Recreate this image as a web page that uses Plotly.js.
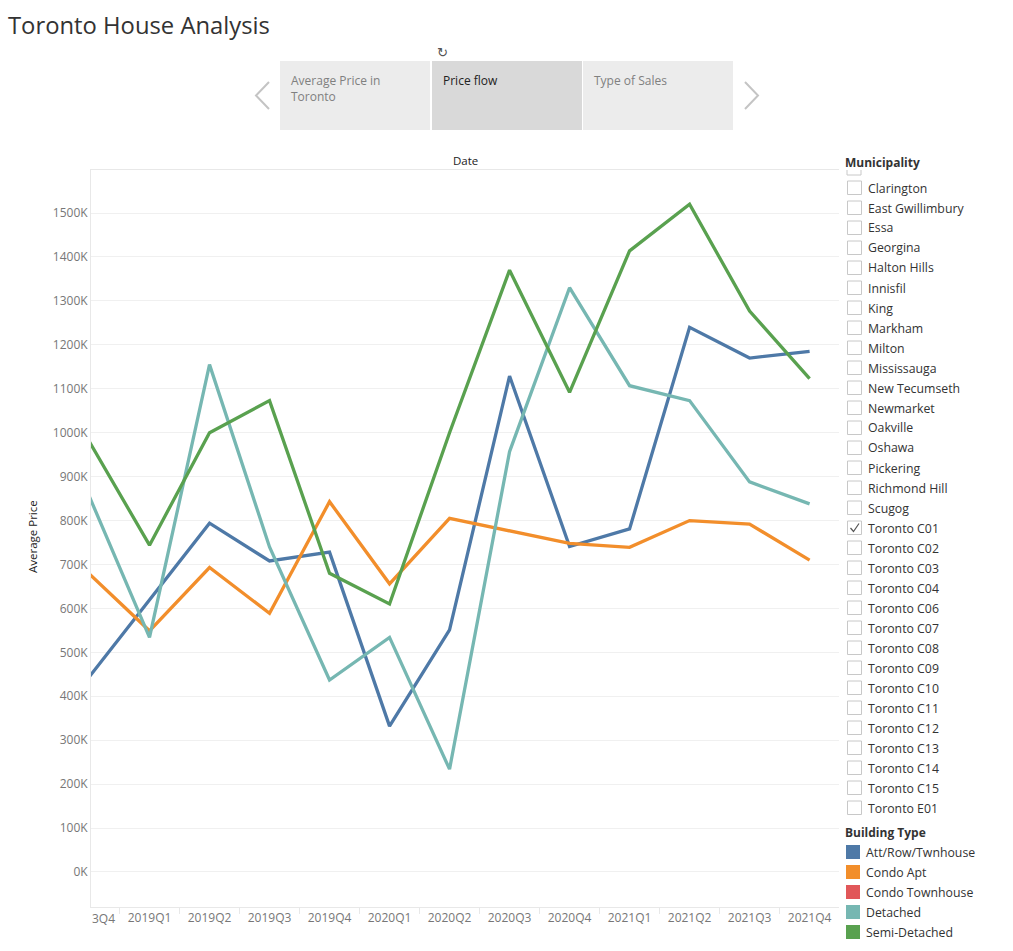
<!DOCTYPE html>
<html>
<head>
<meta charset="utf-8">
<script src="https://cdn.plot.ly/plotly-3.0.1.min.js"></script>
<style>
  html, body { margin: 0; padding: 0; background: #ffffff; }
  #chart { width: 1013px; height: 951px; }
</style>
</head>
<body>
<div id="chart"></div>
<script>
// ---------------- DATA ----------------
const quarters = ["2018Q4","2019Q1","2019Q2","2019Q3","2019Q4","2020Q1","2020Q2","2020Q3","2020Q4","2021Q1","2021Q2","2021Q3","2021Q4"];

const attRowTwnhouse = [445000, 618000, 794000, 708000, 728000, 332000, 551000, 1129000, 741000, 781000, 1240000, 1170000, 1185000];
const condoApt       = [678000, 549000, 693000, 589000, 843000, 656000, 805000, 777000, 748000, 739000, 800000, 792000, 710000];
const condoTownhouse = [];
const detached       = [854000, 534000, 1155000, 740000, 437000, 534000, 234000, 957000, 1330000, 1107000, 1073000, 888000, 838000];
const semiDetached   = [979000, 744000, 1000000, 1073000, 680000, 610000, 1000000, 1370000, 1092000, 1414000, 1520000, 1277000, 1123000];

const buildingTypes = ["Att/Row/Twnhouse", "Condo Apt", "Condo Townhouse", "Detached", "Semi-Detached"];
const typeColors    = ["#4e79a7", "#f28e2b", "#e15759", "#76b7b2", "#59a14f"];
const seriesValues  = [attRowTwnhouse, condoApt, condoTownhouse, detached, semiDetached];

const yTickVals  = [0,100000,200000,300000,400000,500000,600000,700000,800000,900000,1000000,1100000,1200000,1300000,1400000,1500000];
const yTickText  = ["0K","100K","200K","300K","400K","500K","600K","700K","800K","900K","1000K","1100K","1200K","1300K","1400K","1500K"];

const municipalities = ["Clarington","East Gwillimbury","Essa","Georgina","Halton Hills","Innisfil","King","Markham","Milton","Mississauga","New Tecumseth","Newmarket","Oakville","Oshawa","Pickering","Richmond Hill","Scugog","Toronto C01","Toronto C02","Toronto C03","Toronto C04","Toronto C06","Toronto C07","Toronto C08","Toronto C09","Toronto C10","Toronto C11","Toronto C12","Toronto C13","Toronto C14","Toronto C15","Toronto E01"];
const selectedMunicipality = "Toronto C01";

const storyTabs = ["Average Price in<br>Toronto", "Price flow", "Type of Sales"];
const activeTab = 1;

// ---------------- LAYOUT HELPERS (pixel -> paper) ----------------
const W = 1013, H = 951;
const M = {l: 91, r: 174, t: 170, b: 44};
const PW = W - M.l - M.r, PH = H - M.t - M.b;
const px = x => (x - M.l) / PW;
const py = y => (H - M.b - y) / PH;
const FONT = "Open Sans, Liberation Sans, Arial, sans-serif";

// ---------------- TRACES ----------------
const traces = buildingTypes.map((name, i) => ({
  type: "scatter",
  mode: "lines",
  name: name,
  x: quarters.slice(0, seriesValues[i].length),
  y: seriesValues[i],
  line: {color: typeColors[i], width: 3.3},
  showlegend: false,
  hoverinfo: "x+y+name"
}));

// ---------------- SHAPES & ANNOTATIONS ----------------
const shapes = [];
const annotations = [];

// Title
annotations.push({xref:"paper", yref:"paper", x: px(6), y: py(25), xanchor:"left", yanchor:"middle",
  text:"Toronto House Analysis", showarrow:false, font:{family:FONT, size:23.8, color:"#333333"}});

// Refresh icon
annotations.push({xref:"paper", yref:"paper", x: px(442), y: py(52), xanchor:"center", yanchor:"middle",
  text:"↻", showarrow:false, font:{family:"DejaVu Sans", size:13, color:"#555555"}});

// Story tabs
const tabX = [280, 432, 583];
const tabW = 150;
storyTabs.forEach((t, i) => {
  shapes.push({type:"rect", xref:"paper", yref:"paper", x0:px(tabX[i]), x1:px(tabX[i]+tabW), y0:py(130), y1:py(61),
    fillcolor: i === activeTab ? "#d9d9d9" : "#ececec", line:{width:0}, layer:"below"});
  annotations.push({xref:"paper", yref:"paper", x:px(tabX[i]+9), y:py(70), xanchor:"left", yanchor:"top",
    text:t, align:"left", showarrow:false,
    font:{family:FONT, size:12, color: i === activeTab ? "#222222" : "#808080"}});
});
// Arrows
shapes.push({type:"path", xref:"paper", yref:"paper",
  path:`M ${px(269)} ${py(82)} L ${px(256)} ${py(95.5)} L ${px(269)} ${py(109)}`, line:{color:"#c4c4c4", width:2}});
shapes.push({type:"path", xref:"paper", yref:"paper",
  path:`M ${px(745)} ${py(82)} L ${px(758)} ${py(95.5)} L ${px(745)} ${py(109)}`, line:{color:"#c4c4c4", width:2}});

// Header "Date"
annotations.push({xref:"paper", yref:"paper", x:px(465), y:py(160), xanchor:"center", yanchor:"middle",
  text:"Date", showarrow:false, font:{family:FONT, size:11.5, color:"#222222"}});
// Y axis title
annotations.push({xref:"paper", yref:"paper", x:px(32), y:py(537), xanchor:"center", yanchor:"middle",
  text:"Average Price", textangle:-90, showarrow:false, font:{family:FONT, size:11.5, color:"#222222"}});
// clipped first category label
annotations.push({xref:"paper", yref:"paper", x:px(90), y:py(918), xanchor:"left", yanchor:"middle",
  text:"3Q4", showarrow:false, font:{family:FONT, size:12, color:"#777777"}});

// Municipality filter
annotations.push({xref:"paper", yref:"paper", x:px(843), y:py(163), xanchor:"left", yanchor:"middle",
  text:"<b>Municipality</b>", showarrow:false, font:{family:FONT, size:12, color:"#333333"}});
// partially hidden checkbox above the list
shapes.push({type:"path", xref:"paper", yref:"paper",
  path:`M ${px(847)} ${py(170)} L ${px(847)} ${py(175)} L ${px(861)} ${py(175)} L ${px(861)} ${py(170)}`,
  line:{color:"#c8c8c8", width:1}});
municipalities.forEach((m, i) => {
  const cy = 188 + 20 * i;
  shapes.push({type:"rect", xref:"paper", yref:"paper", x0:px(847.5), x1:px(861.5), y0:py(cy+6.5), y1:py(cy-7),
    fillcolor:"#ffffff", line:{color:"#c8c8c8", width:1}});
  if (m === selectedMunicipality) {
    shapes.push({type:"path", xref:"paper", yref:"paper",
      path:`M ${px(850.5)} ${py(cy)} L ${px(853.5)} ${py(cy+3.5)} L ${px(859)} ${py(cy-4.5)}`,
      line:{color:"#555555", width:1.2}});
  }
  annotations.push({xref:"paper", yref:"paper", x:px(866), y:py(cy), xanchor:"left", yanchor:"middle",
    text:m, showarrow:false, font:{family:FONT, size:12.3, color:"#333333"}});
});

// Building Type legend
annotations.push({xref:"paper", yref:"paper", x:px(843), y:py(832), xanchor:"left", yanchor:"middle",
  text:"<b>Building Type</b>", showarrow:false, font:{family:FONT, size:12, color:"#333333"}});
buildingTypes.forEach((b, i) => {
  const cy = 852 + 20 * i;
  shapes.push({type:"rect", xref:"paper", yref:"paper", x0:px(846), x1:px(860), y0:py(cy+7), y1:py(cy-7),
    fillcolor:typeColors[i], line:{width:0}});
  annotations.push({xref:"paper", yref:"paper", x:px(864), y:py(cy), xanchor:"left", yanchor:"middle",
    text:b, showarrow:false, font:{family:FONT, size:12.3, color:"#333333"}});
});

// ---------------- LAYOUT ----------------
const layout = {
  width: W, height: H,
  margin: M,
  paper_bgcolor: "#ffffff",
  plot_bgcolor: "#ffffff",
  showlegend: false,
  xaxis: {
    type: "category",
    categoryorder: "array",
    categoryarray: quarters,
    range: [0.025, 12.49],
    showgrid: false,
    zeroline: false,
    showline: true,
    mirror: true,
    linecolor: "#e8e8e8",
    linewidth: 1,
    ticks: "outside",
    tickson: "boundaries",
    ticklen: 6,
    tickcolor: "#e8e8e8",
    tickfont: {family: FONT, size: 12, color: "#777777"},
    fixedrange: true
  },
  yaxis: {
    range: [-79700, 1598000],
    tickvals: yTickVals,
    ticktext: yTickText,
    showgrid: true,
    gridcolor: "#f0f0f0",
    gridwidth: 1,
    zeroline: false,
    showline: true,
    linecolor: "#e8e8e8",
    linewidth: 1,
    ticks: "",
    ticklabelstandoff: 0,
    tickfont: {family: FONT, size: 12, color: "#777777"},
    fixedrange: true
  },
  shapes: shapes,
  annotations: annotations
};

Plotly.newPlot("chart", traces, layout, {displayModeBar: false, staticPlot: true});
</script>
</body>
</html>
